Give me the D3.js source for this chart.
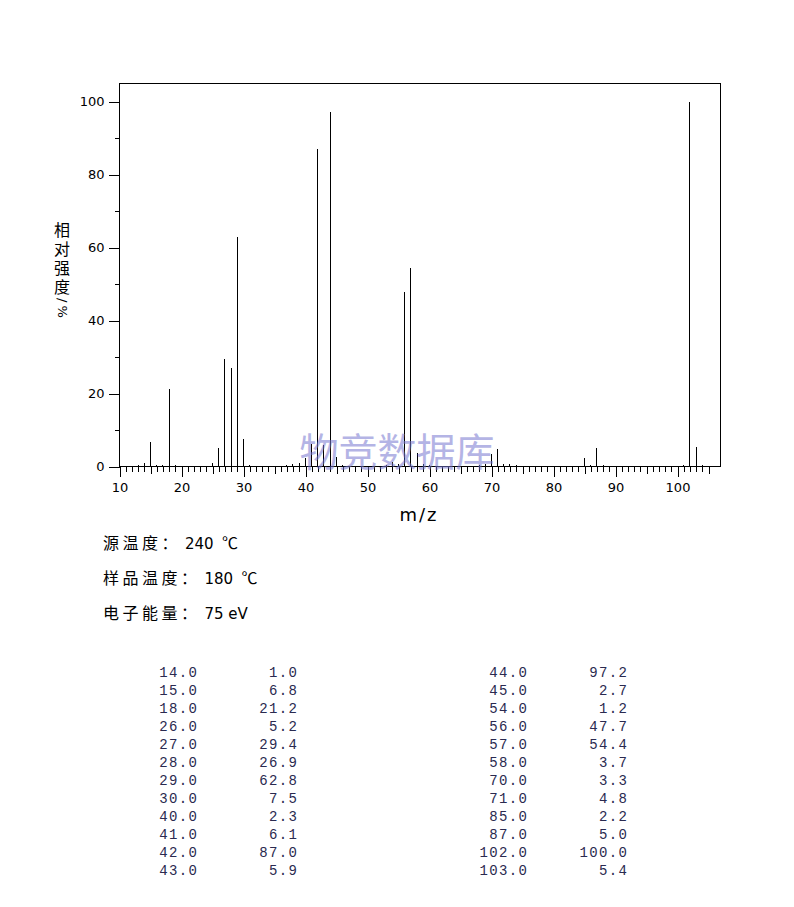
<!DOCTYPE html>
<html><head><meta charset="utf-8">
<script src="https://cdn.jsdelivr.net/npm/d3@7"></script>
<style>body{margin:0;background:#fff;} svg{display:block;}</style>
</head><body>
<script>
// Table (listed) peaks
const tableMz  = [14,15,18,26,27,28,29,30,40,41,42,43,44,45,54,56,57,58,70,71,85,87,102,103];
const tableInt = [1.0,6.8,21.2,5.2,29.4,26.9,62.8,7.5,2.3,6.1,87.0,5.9,97.2,2.7,1.2,47.7,54.4,3.7,3.3,4.8,2.2,5.0,100.0,5.4];
// Small unlisted peaks
const smallMz  = [13,16,17,19,25,31,37,38,39,46,53,55,59,60,68,69,72,73,74,86,88,101,104];
const smallInt = [0.4,0.4,0.3,0.3,0.9,0.4,0.3,0.6,0.9,0.3,0.5,0.8,0.8,0.3,0.4,0.8,0.6,0.8,0.5,0.4,0.3,0.4,0.4];
const yTicks = [0,20,40,60,80,100];
const yMinor = [10,30,50,70,90];
const xTicks = [10,20,30,40,50,60,70,80,90,100];
const xMid = [15,25,35,45,55,65,75,85,95,105];
const xMinor = d3.range(10,106);
const infoLabels = ["源温度：","样品温度：","电子能量："];
const infoValues = ["240 ","180 ","75 eV"];
const infoUnits = ["℃","℃",""];
const yLabelCJK = "相对强度";
const yLabelUnit = "/%";

const W=794,H=907;
const svg=d3.select("body").append("svg").attr("width",W).attr("height",H);
const x=d3.scaleLinear().domain([10,10+601/6.2]).range([119.5,720.5]);
const y=d3.scaleLinear().domain([0,100]).range([466.5,101.5]);
const yTop=83.5;

const sans="DejaVu Sans, sans-serif";
const cjk="'Noto Sans CJK SC', sans-serif";

const peaks=tableMz.map((m,i)=>({m,v:tableInt[i]})).concat(smallMz.map((m,i)=>({m,v:smallInt[i]})));

// frame
svg.append("path").attr("d",`M${x.range()[0]},${y(0)}V${yTop}H${x.range()[1]}V${y(0)}H${x.range()[0]}`)
  .attr("fill","none").attr("stroke","#000").attr("shape-rendering","crispEdges");

// bars
svg.append("g").selectAll("line").data(peaks).join("line")
  .attr("x1",d=>Math.round(x(d.m)-0.6)+0.5).attr("x2",d=>Math.round(x(d.m)-0.6)+0.5)
  .attr("y1",y(0)).attr("y2",d=>y(d.v))
  .attr("stroke","#000").attr("shape-rendering","crispEdges");

// axes
function styleAxis(g){g.select(".domain").remove();g.selectAll("line").attr("shape-rendering","crispEdges");
  g.selectAll("text").attr("font-family",sans).attr("font-size",13).attr("fill","#000");}
svg.append("g").attr("transform",`translate(${x.range()[0]},0)`)
  .call(d3.axisLeft(y).tickValues(yTicks).tickSize(11).tickPadding(4).tickFormat(d3.format("d"))).call(styleAxis);
svg.append("g").attr("transform",`translate(${x.range()[0]},0)`)
  .call(d3.axisLeft(y).tickValues(yMinor).tickSize(5).tickFormat("")).call(styleAxis);
svg.append("g").attr("transform",`translate(0,${y(0)})`)
  .call(d3.axisBottom(x).tickValues(xMinor).tickSize(5).tickFormat("")).call(styleAxis);
svg.append("g").attr("transform",`translate(0,${y(0)})`)
  .call(d3.axisBottom(x).tickValues(xMid).tickSize(7).tickFormat("")).call(styleAxis);
svg.append("g").attr("transform",`translate(0,${y(0)})`)
  .call(d3.axisBottom(x).tickValues(xTicks).tickSize(10).tickPadding(6).tickFormat(d3.format("d"))).call(styleAxis);

// watermark
svg.append("text").attr("x",397).attr("y",466).attr("text-anchor","middle")
  .attr("font-family",cjk).attr("font-size",39).attr("fill","#7878d0").attr("opacity",0.55)
  .text("物竞数据库");

// axis titles
svg.append("text").attr("x",419).attr("y",521).attr("text-anchor","middle")
  .attr("font-family",sans).attr("font-size",18).attr("letter-spacing",2).text("m/z");
svg.append("text").attr("x",62).attr("y",222)
  .style("writing-mode","vertical-rl").style("text-orientation","upright")
  .attr("font-family",cjk).attr("font-size",16).attr("letter-spacing",3).attr("fill","#000")
  .text(yLabelCJK);
svg.append("text").attr("transform","translate(62,298) rotate(90)")
  .attr("dominant-baseline","central").attr("font-family",sans).attr("font-size",13)
  .attr("letter-spacing",3).attr("fill","#000").text(yLabelUnit);

// info lines
infoLabels.forEach((t,i)=>{
  const yy=549+i*35;
  const tx=svg.append("text").attr("y",yy).attr("fill","#000");
  tx.append("tspan").attr("x",103).attr("font-family",cjk).attr("font-size",16).attr("letter-spacing",3.5).text(t);
  const vx=103+t.length*19.5+4;
  tx.append("tspan").attr("x",vx).attr("font-family",sans).attr("font-size",15).text(infoValues[i]);
  if(infoUnits[i]) tx.append("tspan").attr("x",vx+37).attr("font-family",cjk).attr("font-size",16).text(infoUnits[i]);
});

// table
const mono="'Liberation Mono', 'DejaVu Sans Mono', monospace";
const ls=1.4;
const half=12;
const cols=[{mzX:197,intX:297},{mzX:527,intX:627}];
tableMz.forEach((m,i)=>{
  const c=cols[Math.floor(i/half)], r=i%half;
  const yy=676.5+r*18;
  svg.append("text").attr("x",c.mzX+ls).attr("y",yy).attr("text-anchor","end")
    .attr("font-family",mono).attr("font-size",14).attr("letter-spacing",ls).attr("fill","#2a2a50")
    .text(m.toFixed(1));
  svg.append("text").attr("x",c.intX+ls).attr("y",yy).attr("text-anchor","end")
    .attr("font-family",mono).attr("font-size",14).attr("letter-spacing",ls).attr("fill","#2a2a50")
    .text(tableInt[i].toFixed(1));
});
</script>
</body></html>
